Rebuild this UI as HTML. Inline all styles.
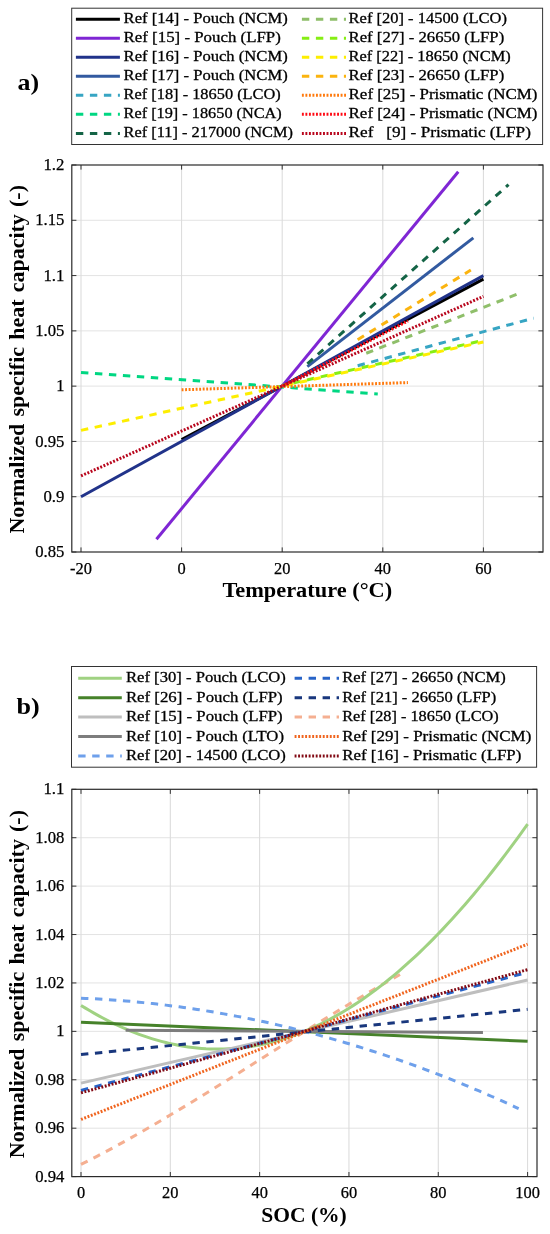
<!DOCTYPE html>
<html lang="en"><head><meta charset="utf-8"><title>Normalized specific heat capacity</title>
<style>html,body{margin:0;padding:0;background:#fff}body{width:550px;height:1234px;overflow:hidden}svg{display:block}</style>
</head><body>
<svg width="550" height="1234" viewBox="0 0 550 1234" font-family='"Liberation Serif", serif' fill="#000">
<rect width="550" height="1234" fill="#fff"/>
<defs>
<clipPath id="ca"><rect x="71.8" y="165.0" width="471.2" height="387.0"/></clipPath>
<clipPath id="cb"><rect x="71.8" y="789.3" width="465.2" height="387.29999999999995"/></clipPath>
</defs>
<rect x="71.8" y="165.0" width="471.2" height="387.0" fill="#fff"/>
<line x1="81.00" y1="165.0" x2="81.00" y2="552.0" stroke="#cfcfcf" stroke-width="0.8"/>
<line x1="181.60" y1="165.0" x2="181.60" y2="552.0" stroke="#cfcfcf" stroke-width="0.8"/>
<line x1="282.20" y1="165.0" x2="282.20" y2="552.0" stroke="#cfcfcf" stroke-width="0.8"/>
<line x1="382.80" y1="165.0" x2="382.80" y2="552.0" stroke="#cfcfcf" stroke-width="0.8"/>
<line x1="483.40" y1="165.0" x2="483.40" y2="552.0" stroke="#cfcfcf" stroke-width="0.8"/>
<line x1="71.8" y1="496.71" x2="543.0" y2="496.71" stroke="#dcdcdc" stroke-width="0.8"/>
<line x1="71.8" y1="441.43" x2="543.0" y2="441.43" stroke="#dcdcdc" stroke-width="0.8"/>
<line x1="71.8" y1="386.14" x2="543.0" y2="386.14" stroke="#dcdcdc" stroke-width="0.8"/>
<line x1="71.8" y1="330.86" x2="543.0" y2="330.86" stroke="#dcdcdc" stroke-width="0.8"/>
<line x1="71.8" y1="275.57" x2="543.0" y2="275.57" stroke="#dcdcdc" stroke-width="0.8"/>
<line x1="71.8" y1="220.29" x2="543.0" y2="220.29" stroke="#dcdcdc" stroke-width="0.8"/>
<path d="M181.60 439.66 L483.40 279.11" fill="none" stroke="#000000" stroke-width="3.0" clip-path="url(#ca)"/>
<path d="M156.45 539.28 L458.25 171.74" fill="none" stroke="#7f26d4" stroke-width="3.0" clip-path="url(#ca)"/>
<path d="M81.00 496.71 L483.40 275.57" fill="none" stroke="#21338a" stroke-width="3.0" clip-path="url(#ca)"/>
<path d="M307.35 366.63 L473.34 237.82" fill="none" stroke="#325aa0" stroke-width="3.0" clip-path="url(#ca)"/>
<path d="M357.65 365.74 L533.70 318.14" fill="none" stroke="#37a5c3" stroke-width="3.0" stroke-dasharray="7.4 6.6" clip-path="url(#ca)"/>
<path d="M81.00 372.43 L377.77 393.96" fill="none" stroke="#00d782" stroke-width="3.0" stroke-dasharray="7.4 6.6" clip-path="url(#ca)"/>
<path d="M307.35 363.75 L508.55 184.63" fill="none" stroke="#146446" stroke-width="3.0" stroke-dasharray="7.4 6.6" clip-path="url(#ca)"/>
<path d="M366.20 353.27 L516.60 294.43" fill="none" stroke="#8fbf6a" stroke-width="3.0" stroke-dasharray="7.4 6.6" clip-path="url(#ca)"/>
<path d="M282.20 385.48 L483.40 340.37" fill="none" stroke="#86ee14" stroke-width="3.0" stroke-dasharray="7.4 6.6" stroke-dashoffset="2.6" clip-path="url(#ca)"/>
<path d="M81.00 430.37 L483.40 341.91" fill="none" stroke="#fdee00" stroke-width="3.0" stroke-dasharray="7.4 6.6" clip-path="url(#ca)"/>
<path d="M357.65 339.70 L470.83 270.04" fill="none" stroke="#fbb40f" stroke-width="3.0" stroke-dasharray="7.4 6.6" clip-path="url(#ca)"/>
<path d="M181.60 389.79 L407.95 382.60" fill="none" stroke="#ff7a0d" stroke-width="3.0" stroke-dasharray="1.9 1.62" clip-path="url(#ca)"/>
<path d="M282.20 386.14 L407.95 320.91" fill="none" stroke="#ff0a14" stroke-width="3.0" stroke-dasharray="1.9 1.62" clip-path="url(#ca)"/>
<path d="M81.00 475.93 L483.40 296.36" fill="none" stroke="#b8051c" stroke-width="3.0" stroke-dasharray="1.9 1.62" clip-path="url(#ca)"/>
<line x1="81.00" y1="552.0" x2="81.00" y2="547.4" stroke="#333333" stroke-width="1"/>
<line x1="81.00" y1="165.0" x2="81.00" y2="169.6" stroke="#333333" stroke-width="1"/>
<line x1="181.60" y1="552.0" x2="181.60" y2="547.4" stroke="#333333" stroke-width="1"/>
<line x1="181.60" y1="165.0" x2="181.60" y2="169.6" stroke="#333333" stroke-width="1"/>
<line x1="282.20" y1="552.0" x2="282.20" y2="547.4" stroke="#333333" stroke-width="1"/>
<line x1="282.20" y1="165.0" x2="282.20" y2="169.6" stroke="#333333" stroke-width="1"/>
<line x1="382.80" y1="552.0" x2="382.80" y2="547.4" stroke="#333333" stroke-width="1"/>
<line x1="382.80" y1="165.0" x2="382.80" y2="169.6" stroke="#333333" stroke-width="1"/>
<line x1="483.40" y1="552.0" x2="483.40" y2="547.4" stroke="#333333" stroke-width="1"/>
<line x1="483.40" y1="165.0" x2="483.40" y2="169.6" stroke="#333333" stroke-width="1"/>
<line x1="71.8" y1="552.00" x2="76.39999999999999" y2="552.00" stroke="#333333" stroke-width="1"/>
<line x1="543.0" y1="552.00" x2="538.4" y2="552.00" stroke="#333333" stroke-width="1"/>
<line x1="71.8" y1="496.71" x2="76.39999999999999" y2="496.71" stroke="#333333" stroke-width="1"/>
<line x1="543.0" y1="496.71" x2="538.4" y2="496.71" stroke="#333333" stroke-width="1"/>
<line x1="71.8" y1="441.43" x2="76.39999999999999" y2="441.43" stroke="#333333" stroke-width="1"/>
<line x1="543.0" y1="441.43" x2="538.4" y2="441.43" stroke="#333333" stroke-width="1"/>
<line x1="71.8" y1="386.14" x2="76.39999999999999" y2="386.14" stroke="#333333" stroke-width="1"/>
<line x1="543.0" y1="386.14" x2="538.4" y2="386.14" stroke="#333333" stroke-width="1"/>
<line x1="71.8" y1="330.86" x2="76.39999999999999" y2="330.86" stroke="#333333" stroke-width="1"/>
<line x1="543.0" y1="330.86" x2="538.4" y2="330.86" stroke="#333333" stroke-width="1"/>
<line x1="71.8" y1="275.57" x2="76.39999999999999" y2="275.57" stroke="#333333" stroke-width="1"/>
<line x1="543.0" y1="275.57" x2="538.4" y2="275.57" stroke="#333333" stroke-width="1"/>
<line x1="71.8" y1="220.29" x2="76.39999999999999" y2="220.29" stroke="#333333" stroke-width="1"/>
<line x1="543.0" y1="220.29" x2="538.4" y2="220.29" stroke="#333333" stroke-width="1"/>
<line x1="71.8" y1="165.00" x2="76.39999999999999" y2="165.00" stroke="#333333" stroke-width="1"/>
<line x1="543.0" y1="165.00" x2="538.4" y2="165.00" stroke="#333333" stroke-width="1"/>
<rect x="71.8" y="165.0" width="471.2" height="387.0" fill="none" stroke="#2a2a2a" stroke-width="1.2"/>
<text x="70.07" y="573.60" font-size="15.8" textLength="21.86" lengthAdjust="spacingAndGlyphs" stroke="#000" stroke-width="0.25">-20</text>
<text x="177.50" y="573.60" font-size="15.8" textLength="8.20" lengthAdjust="spacingAndGlyphs" stroke="#000" stroke-width="0.25">0</text>
<text x="274.00" y="573.60" font-size="15.8" textLength="16.40" lengthAdjust="spacingAndGlyphs" stroke="#000" stroke-width="0.25">20</text>
<text x="374.60" y="573.60" font-size="15.8" textLength="16.40" lengthAdjust="spacingAndGlyphs" stroke="#000" stroke-width="0.25">40</text>
<text x="475.20" y="573.60" font-size="15.8" textLength="16.40" lengthAdjust="spacingAndGlyphs" stroke="#000" stroke-width="0.25">60</text>
<text x="35.24" y="557.10" font-size="15.8" textLength="29.16" lengthAdjust="spacingAndGlyphs" stroke="#000" stroke-width="0.25">0.85</text>
<text x="43.44" y="501.81" font-size="15.8" textLength="20.96" lengthAdjust="spacingAndGlyphs" stroke="#000" stroke-width="0.25">0.9</text>
<text x="35.24" y="446.53" font-size="15.8" textLength="29.16" lengthAdjust="spacingAndGlyphs" stroke="#000" stroke-width="0.25">0.95</text>
<text x="56.20" y="391.24" font-size="15.8" textLength="8.20" lengthAdjust="spacingAndGlyphs" stroke="#000" stroke-width="0.25">1</text>
<text x="35.24" y="335.96" font-size="15.8" textLength="29.16" lengthAdjust="spacingAndGlyphs" stroke="#000" stroke-width="0.25">1.05</text>
<text x="43.44" y="280.67" font-size="15.8" textLength="20.96" lengthAdjust="spacingAndGlyphs" stroke="#000" stroke-width="0.25">1.1</text>
<text x="35.24" y="225.39" font-size="15.8" textLength="29.16" lengthAdjust="spacingAndGlyphs" stroke="#000" stroke-width="0.25">1.15</text>
<text x="43.44" y="170.10" font-size="15.8" textLength="20.96" lengthAdjust="spacingAndGlyphs" stroke="#000" stroke-width="0.25">1.2</text>
<rect x="71.7" y="8.2" width="470.90000000000003" height="136.3" fill="#fff" stroke="#333333" stroke-width="1"/>
<line x1="75.9" y1="19.20" x2="119.9" y2="19.20" stroke="#000000" stroke-width="3.0"/>
<text x="123.6" y="23.30" font-size="15.6" textLength="164.1" lengthAdjust="spacingAndGlyphs" stroke="#000" stroke-width="0.3">Ref [14] - Pouch (NCM)</text>
<line x1="75.9" y1="38.23" x2="119.9" y2="38.23" stroke="#7f26d4" stroke-width="3.0"/>
<text x="123.6" y="42.33" font-size="15.6" textLength="157.2" lengthAdjust="spacingAndGlyphs" stroke="#000" stroke-width="0.3">Ref [15] - Pouch (LFP)</text>
<line x1="75.9" y1="57.26" x2="119.9" y2="57.26" stroke="#21338a" stroke-width="3.0"/>
<text x="123.6" y="61.36" font-size="15.6" textLength="164.1" lengthAdjust="spacingAndGlyphs" stroke="#000" stroke-width="0.3">Ref [16] - Pouch (NCM)</text>
<line x1="75.9" y1="76.29" x2="119.9" y2="76.29" stroke="#325aa0" stroke-width="3.0"/>
<text x="123.6" y="80.39" font-size="15.6" textLength="164.1" lengthAdjust="spacingAndGlyphs" stroke="#000" stroke-width="0.3">Ref [17] - Pouch (NCM)</text>
<line x1="75.9" y1="95.32" x2="119.9" y2="95.32" stroke="#37a5c3" stroke-width="3.0" stroke-dasharray="7.4 6.6"/>
<text x="123.6" y="99.42" font-size="15.6" textLength="157.2" lengthAdjust="spacingAndGlyphs" stroke="#000" stroke-width="0.3">Ref [18] - 18650 (LCO)</text>
<line x1="75.9" y1="114.35" x2="119.9" y2="114.35" stroke="#00d782" stroke-width="3.0" stroke-dasharray="7.4 6.6"/>
<text x="123.6" y="118.45" font-size="15.6" textLength="158.2" lengthAdjust="spacingAndGlyphs" stroke="#000" stroke-width="0.3">Ref [19] - 18650 (NCA)</text>
<line x1="75.9" y1="133.38" x2="119.9" y2="133.38" stroke="#146446" stroke-width="3.0" stroke-dasharray="7.4 6.6"/>
<text x="123.6" y="137.48" font-size="15.6" textLength="169.3" lengthAdjust="spacingAndGlyphs" stroke="#000" stroke-width="0.3">Ref [11] - 217000 (NCM)</text>
<line x1="301.9" y1="19.20" x2="346.0" y2="19.20" stroke="#8fbf6a" stroke-width="3.0" stroke-dasharray="7.4 6.6"/>
<text x="348.6" y="23.30" font-size="15.6" textLength="158.3" lengthAdjust="spacingAndGlyphs" stroke="#000" stroke-width="0.3">Ref [20] - 14500 (LCO)</text>
<line x1="301.9" y1="38.23" x2="346.0" y2="38.23" stroke="#86ee14" stroke-width="3.0" stroke-dasharray="7.4 6.6"/>
<text x="348.6" y="42.33" font-size="15.6" textLength="155.6" lengthAdjust="spacingAndGlyphs" stroke="#000" stroke-width="0.3">Ref [27] - 26650 (LFP)</text>
<line x1="301.9" y1="57.26" x2="346.0" y2="57.26" stroke="#fdee00" stroke-width="3.0" stroke-dasharray="7.4 6.6"/>
<text x="348.6" y="61.36" font-size="15.6" textLength="162.1" lengthAdjust="spacingAndGlyphs" stroke="#000" stroke-width="0.3">Ref [22] - 18650 (NCM)</text>
<line x1="301.9" y1="76.29" x2="346.0" y2="76.29" stroke="#fbb40f" stroke-width="3.0" stroke-dasharray="7.4 6.6"/>
<text x="348.6" y="80.39" font-size="15.6" textLength="155.6" lengthAdjust="spacingAndGlyphs" stroke="#000" stroke-width="0.3">Ref [23] - 26650 (LFP)</text>
<line x1="301.9" y1="95.32" x2="346.0" y2="95.32" stroke="#ff7a0d" stroke-width="3.0" stroke-dasharray="1.9 1.62"/>
<text x="348.6" y="99.42" font-size="15.6" textLength="188.8" lengthAdjust="spacingAndGlyphs" stroke="#000" stroke-width="0.3">Ref [25] - Prismatic (NCM)</text>
<line x1="301.9" y1="114.35" x2="346.0" y2="114.35" stroke="#ff0a14" stroke-width="3.0" stroke-dasharray="1.9 1.62"/>
<text x="348.6" y="118.45" font-size="15.6" textLength="188.8" lengthAdjust="spacingAndGlyphs" stroke="#000" stroke-width="0.3">Ref [24] - Prismatic (NCM)</text>
<line x1="301.9" y1="133.38" x2="346.0" y2="133.38" stroke="#b8051c" stroke-width="3.0" stroke-dasharray="1.9 1.62"/>
<text x="348.6" y="137.48" font-size="15.6" textLength="182.3" lengthAdjust="spacingAndGlyphs" stroke="#000" stroke-width="0.3">Ref  [9] - Prismatic (LFP)</text>
<text x="17.6" y="89.7" font-size="24" font-weight="bold" textLength="21.6" lengthAdjust="spacingAndGlyphs">a)</text>
<text transform="translate(23.6 533.6) rotate(-90)" font-size="20.4" font-weight="bold" textLength="348.6" word-spacing="1.6" lengthAdjust="spacingAndGlyphs">Normalized specific heat capacity (-)</text>
<text x="222.4" y="596.8" font-size="20.4" font-weight="bold" textLength="169.8" lengthAdjust="spacingAndGlyphs">Temperature (°C)</text>
<rect x="71.8" y="789.3" width="465.2" height="387.29999999999995" fill="#fff"/>
<line x1="81.00" y1="789.3" x2="81.00" y2="1176.6" stroke="#cfcfcf" stroke-width="0.8"/>
<line x1="170.32" y1="789.3" x2="170.32" y2="1176.6" stroke="#cfcfcf" stroke-width="0.8"/>
<line x1="259.64" y1="789.3" x2="259.64" y2="1176.6" stroke="#cfcfcf" stroke-width="0.8"/>
<line x1="348.96" y1="789.3" x2="348.96" y2="1176.6" stroke="#cfcfcf" stroke-width="0.8"/>
<line x1="438.28" y1="789.3" x2="438.28" y2="1176.6" stroke="#cfcfcf" stroke-width="0.8"/>
<line x1="527.60" y1="789.3" x2="527.60" y2="1176.6" stroke="#cfcfcf" stroke-width="0.8"/>
<line x1="71.8" y1="1128.19" x2="537.0" y2="1128.19" stroke="#dcdcdc" stroke-width="0.8"/>
<line x1="71.8" y1="1079.78" x2="537.0" y2="1079.78" stroke="#dcdcdc" stroke-width="0.8"/>
<line x1="71.8" y1="1031.36" x2="537.0" y2="1031.36" stroke="#dcdcdc" stroke-width="0.8"/>
<line x1="71.8" y1="982.95" x2="537.0" y2="982.95" stroke="#dcdcdc" stroke-width="0.8"/>
<line x1="71.8" y1="934.54" x2="537.0" y2="934.54" stroke="#dcdcdc" stroke-width="0.8"/>
<line x1="71.8" y1="886.12" x2="537.0" y2="886.12" stroke="#dcdcdc" stroke-width="0.8"/>
<line x1="71.8" y1="837.71" x2="537.0" y2="837.71" stroke="#dcdcdc" stroke-width="0.8"/>
<path d="M81.00 1164.46 L89.19 1160.31 L97.38 1156.07 L105.56 1151.75 L113.75 1147.34 L121.94 1142.86 L130.13 1138.30 L138.31 1133.68 L146.50 1128.99 L154.69 1124.23 L162.88 1119.42 L171.06 1114.56 L179.25 1109.65 L187.44 1104.70 L195.63 1099.71 L203.81 1094.68 L212.00 1089.62 L220.19 1084.53 L228.38 1079.42 L236.57 1074.30 L244.75 1069.15 L252.94 1064.00 L261.13 1058.84 L269.32 1053.68 L277.50 1048.52 L285.69 1043.37 L293.88 1038.23 L302.07 1033.10 L310.25 1028.00 L318.44 1022.91 L326.63 1017.86 L334.82 1012.83 L343.01 1007.85 L351.19 1002.90 L359.38 998.00 L367.57 993.15 L375.76 988.35 L383.94 983.60 L392.13 978.92 L400.32 974.31" fill="none" stroke="#f5af91" stroke-width="3.0" stroke-dasharray="7.4 6.6" clip-path="url(#cb)"/>
<path d="M81.00 1005.41 L85.47 1008.15 L89.93 1010.81 L94.40 1013.38 L98.86 1015.87 L103.33 1018.27 L107.80 1020.58 L112.26 1022.80 L116.73 1024.94 L121.19 1026.99 L125.66 1028.95 L130.13 1030.83 L134.59 1032.61 L139.06 1034.30 L143.52 1035.90 L147.99 1037.42 L152.46 1038.84 L156.92 1040.17 L161.39 1041.41 L165.85 1042.56 L170.32 1043.61 L174.79 1044.57 L179.25 1045.44 L183.72 1046.22 L188.18 1046.90 L192.65 1047.49 L197.12 1047.99 L201.58 1048.39 L206.05 1048.70 L210.51 1048.91 L214.98 1049.03 L219.45 1049.06 L223.91 1048.99 L228.38 1048.82 L232.84 1048.56 L237.31 1048.21 L241.78 1047.75 L246.24 1047.21 L250.71 1046.56 L255.17 1045.83 L259.64 1044.99 L264.11 1044.06 L268.57 1043.04 L273.04 1041.91 L277.50 1040.70 L281.97 1039.38 L286.44 1037.97 L290.90 1036.47 L295.37 1034.87 L299.83 1033.17 L304.30 1031.38 L308.77 1029.49 L313.23 1027.50 L317.70 1025.42 L322.16 1023.25 L326.63 1020.98 L331.10 1018.61 L335.56 1016.15 L340.03 1013.59 L344.49 1010.94 L348.96 1008.20 L353.43 1005.36 L357.89 1002.42 L362.36 999.39 L366.82 996.27 L371.29 993.05 L375.76 989.74 L380.22 986.34 L384.69 982.85 L389.15 979.26 L393.62 975.58 L398.09 971.81 L402.55 967.94 L407.02 963.99 L411.48 959.94 L415.95 955.80 L420.42 951.58 L424.88 947.26 L429.35 942.85 L433.81 938.36 L438.28 933.77 L442.75 929.10 L447.21 924.34 L451.68 919.49 L456.14 914.55 L460.61 909.53 L465.08 904.42 L469.54 899.23 L474.01 893.95 L478.47 888.59 L482.94 883.14 L487.41 877.61 L491.87 872.00 L496.34 866.30 L500.80 860.52 L505.27 854.66 L509.74 848.72 L514.20 842.70 L518.67 836.60 L523.13 830.43 L527.60 824.17" fill="none" stroke="#a0d282" stroke-width="3.0" clip-path="url(#cb)"/>
<path d="M81.00 1022.16 L527.60 1041.29" fill="none" stroke="#46822a" stroke-width="3.0" clip-path="url(#cb)"/>
<path d="M81.00 1083.16 L527.60 980.05" fill="none" stroke="#bebebe" stroke-width="3.0" clip-path="url(#cb)"/>
<path d="M125.66 1030.15 L482.94 1032.57" fill="none" stroke="#7d7d7d" stroke-width="3.0" clip-path="url(#cb)"/>
<path d="M81.00 998.20 L85.47 998.39 L89.93 998.60 L94.40 998.83 L98.86 999.08 L103.33 999.35 L107.80 999.63 L112.26 999.94 L116.73 1000.26 L121.19 1000.61 L125.66 1000.97 L130.13 1001.36 L134.59 1001.76 L139.06 1002.18 L143.52 1002.62 L147.99 1003.08 L152.46 1003.56 L156.92 1004.06 L161.39 1004.58 L165.85 1005.12 L170.32 1005.68 L174.79 1006.25 L179.25 1006.85 L183.72 1007.46 L188.18 1008.10 L192.65 1008.75 L197.12 1009.42 L201.58 1010.12 L206.05 1010.83 L210.51 1011.56 L214.98 1012.31 L219.45 1013.08 L223.91 1013.87 L228.38 1014.67 L232.84 1015.50 L237.31 1016.35 L241.78 1017.21 L246.24 1018.10 L250.71 1019.00 L255.17 1019.93 L259.64 1020.87 L264.11 1021.83 L268.57 1022.81 L273.04 1023.82 L277.50 1024.84 L281.97 1025.88 L286.44 1026.93 L290.90 1028.01 L295.37 1029.11 L299.83 1030.23 L304.30 1031.36 L308.77 1032.52 L313.23 1033.69 L317.70 1034.89 L322.16 1036.10 L326.63 1037.33 L331.10 1038.58 L335.56 1039.86 L340.03 1041.15 L344.49 1042.46 L348.96 1043.78 L353.43 1045.13 L357.89 1046.50 L362.36 1047.89 L366.82 1049.29 L371.29 1050.72 L375.76 1052.16 L380.22 1053.63 L384.69 1055.11 L389.15 1056.61 L393.62 1058.14 L398.09 1059.68 L402.55 1061.24 L407.02 1062.82 L411.48 1064.42 L415.95 1066.03 L420.42 1067.67 L424.88 1069.33 L429.35 1071.01 L433.81 1072.70 L438.28 1074.42 L442.75 1076.15 L447.21 1077.90 L451.68 1079.68 L456.14 1081.47 L460.61 1083.28 L465.08 1085.11 L469.54 1086.96 L474.01 1088.83 L478.47 1090.72 L482.94 1092.63 L487.41 1094.55 L491.87 1096.50 L496.34 1098.47 L500.80 1100.45 L505.27 1102.46 L509.74 1104.48 L514.20 1106.52 L518.67 1108.59" fill="none" stroke="#6ea0eb" stroke-width="3.0" stroke-dasharray="7.4 6.6" clip-path="url(#cb)"/>
<path d="M81.00 1090.43 L527.60 972.30" fill="none" stroke="#2864c8" stroke-width="3.0" stroke-dasharray="7.4 6.6" clip-path="url(#cb)"/>
<path d="M81.00 1054.60 L527.60 1009.33" fill="none" stroke="#19377d" stroke-width="3.0" stroke-dasharray="7.4 6.6" clip-path="url(#cb)"/>
<path d="M81.00 1119.47 L527.60 944.22" fill="none" stroke="#f0641e" stroke-width="3.0" stroke-dasharray="1.9 1.62" clip-path="url(#cb)"/>
<path d="M81.00 1092.85 L527.60 969.64" fill="none" stroke="#820a14" stroke-width="3.0" stroke-dasharray="1.9 1.62" clip-path="url(#cb)"/>
<line x1="81.00" y1="1176.6" x2="81.00" y2="1172.0" stroke="#333333" stroke-width="1"/>
<line x1="81.00" y1="789.3" x2="81.00" y2="793.9" stroke="#333333" stroke-width="1"/>
<line x1="170.32" y1="1176.6" x2="170.32" y2="1172.0" stroke="#333333" stroke-width="1"/>
<line x1="170.32" y1="789.3" x2="170.32" y2="793.9" stroke="#333333" stroke-width="1"/>
<line x1="259.64" y1="1176.6" x2="259.64" y2="1172.0" stroke="#333333" stroke-width="1"/>
<line x1="259.64" y1="789.3" x2="259.64" y2="793.9" stroke="#333333" stroke-width="1"/>
<line x1="348.96" y1="1176.6" x2="348.96" y2="1172.0" stroke="#333333" stroke-width="1"/>
<line x1="348.96" y1="789.3" x2="348.96" y2="793.9" stroke="#333333" stroke-width="1"/>
<line x1="438.28" y1="1176.6" x2="438.28" y2="1172.0" stroke="#333333" stroke-width="1"/>
<line x1="438.28" y1="789.3" x2="438.28" y2="793.9" stroke="#333333" stroke-width="1"/>
<line x1="527.60" y1="1176.6" x2="527.60" y2="1172.0" stroke="#333333" stroke-width="1"/>
<line x1="527.60" y1="789.3" x2="527.60" y2="793.9" stroke="#333333" stroke-width="1"/>
<line x1="71.8" y1="1176.60" x2="76.39999999999999" y2="1176.60" stroke="#333333" stroke-width="1"/>
<line x1="537.0" y1="1176.60" x2="532.4" y2="1176.60" stroke="#333333" stroke-width="1"/>
<line x1="71.8" y1="1128.19" x2="76.39999999999999" y2="1128.19" stroke="#333333" stroke-width="1"/>
<line x1="537.0" y1="1128.19" x2="532.4" y2="1128.19" stroke="#333333" stroke-width="1"/>
<line x1="71.8" y1="1079.78" x2="76.39999999999999" y2="1079.78" stroke="#333333" stroke-width="1"/>
<line x1="537.0" y1="1079.78" x2="532.4" y2="1079.78" stroke="#333333" stroke-width="1"/>
<line x1="71.8" y1="1031.36" x2="76.39999999999999" y2="1031.36" stroke="#333333" stroke-width="1"/>
<line x1="537.0" y1="1031.36" x2="532.4" y2="1031.36" stroke="#333333" stroke-width="1"/>
<line x1="71.8" y1="982.95" x2="76.39999999999999" y2="982.95" stroke="#333333" stroke-width="1"/>
<line x1="537.0" y1="982.95" x2="532.4" y2="982.95" stroke="#333333" stroke-width="1"/>
<line x1="71.8" y1="934.54" x2="76.39999999999999" y2="934.54" stroke="#333333" stroke-width="1"/>
<line x1="537.0" y1="934.54" x2="532.4" y2="934.54" stroke="#333333" stroke-width="1"/>
<line x1="71.8" y1="886.12" x2="76.39999999999999" y2="886.12" stroke="#333333" stroke-width="1"/>
<line x1="537.0" y1="886.12" x2="532.4" y2="886.12" stroke="#333333" stroke-width="1"/>
<line x1="71.8" y1="837.71" x2="76.39999999999999" y2="837.71" stroke="#333333" stroke-width="1"/>
<line x1="537.0" y1="837.71" x2="532.4" y2="837.71" stroke="#333333" stroke-width="1"/>
<line x1="71.8" y1="789.30" x2="76.39999999999999" y2="789.30" stroke="#333333" stroke-width="1"/>
<line x1="537.0" y1="789.30" x2="532.4" y2="789.30" stroke="#333333" stroke-width="1"/>
<rect x="71.8" y="789.3" width="465.2" height="387.29999999999995" fill="none" stroke="#2a2a2a" stroke-width="1.2"/>
<text x="76.90" y="1198.20" font-size="15.8" textLength="8.20" lengthAdjust="spacingAndGlyphs" stroke="#000" stroke-width="0.25">0</text>
<text x="162.12" y="1198.20" font-size="15.8" textLength="16.40" lengthAdjust="spacingAndGlyphs" stroke="#000" stroke-width="0.25">20</text>
<text x="251.44" y="1198.20" font-size="15.8" textLength="16.40" lengthAdjust="spacingAndGlyphs" stroke="#000" stroke-width="0.25">40</text>
<text x="340.76" y="1198.20" font-size="15.8" textLength="16.40" lengthAdjust="spacingAndGlyphs" stroke="#000" stroke-width="0.25">60</text>
<text x="430.08" y="1198.20" font-size="15.8" textLength="16.40" lengthAdjust="spacingAndGlyphs" stroke="#000" stroke-width="0.25">80</text>
<text x="515.30" y="1198.20" font-size="15.8" textLength="24.60" lengthAdjust="spacingAndGlyphs" stroke="#000" stroke-width="0.25">100</text>
<text x="35.24" y="1181.70" font-size="15.8" textLength="29.16" lengthAdjust="spacingAndGlyphs" stroke="#000" stroke-width="0.25">0.94</text>
<text x="35.24" y="1133.29" font-size="15.8" textLength="29.16" lengthAdjust="spacingAndGlyphs" stroke="#000" stroke-width="0.25">0.96</text>
<text x="35.24" y="1084.88" font-size="15.8" textLength="29.16" lengthAdjust="spacingAndGlyphs" stroke="#000" stroke-width="0.25">0.98</text>
<text x="56.20" y="1036.46" font-size="15.8" textLength="8.20" lengthAdjust="spacingAndGlyphs" stroke="#000" stroke-width="0.25">1</text>
<text x="35.24" y="988.05" font-size="15.8" textLength="29.16" lengthAdjust="spacingAndGlyphs" stroke="#000" stroke-width="0.25">1.02</text>
<text x="35.24" y="939.64" font-size="15.8" textLength="29.16" lengthAdjust="spacingAndGlyphs" stroke="#000" stroke-width="0.25">1.04</text>
<text x="35.24" y="891.23" font-size="15.8" textLength="29.16" lengthAdjust="spacingAndGlyphs" stroke="#000" stroke-width="0.25">1.06</text>
<text x="35.24" y="842.81" font-size="15.8" textLength="29.16" lengthAdjust="spacingAndGlyphs" stroke="#000" stroke-width="0.25">1.08</text>
<text x="43.44" y="794.40" font-size="15.8" textLength="20.96" lengthAdjust="spacingAndGlyphs" stroke="#000" stroke-width="0.25">1.1</text>
<rect x="71.5" y="666.5" width="465.1" height="100.70000000000005" fill="#fff" stroke="#333333" stroke-width="1"/>
<line x1="78.2" y1="678.20" x2="121.8" y2="678.20" stroke="#a0d282" stroke-width="3.0"/>
<text x="125.9" y="682.30" font-size="15.6" textLength="160.0" lengthAdjust="spacingAndGlyphs" stroke="#000" stroke-width="0.3">Ref [30] - Pouch (LCO)</text>
<line x1="78.2" y1="697.65" x2="121.8" y2="697.65" stroke="#46822a" stroke-width="3.0"/>
<text x="125.9" y="701.75" font-size="15.6" textLength="156.8" lengthAdjust="spacingAndGlyphs" stroke="#000" stroke-width="0.3">Ref [26] - Pouch (LFP)</text>
<line x1="78.2" y1="717.10" x2="121.8" y2="717.10" stroke="#bebebe" stroke-width="3.0"/>
<text x="125.9" y="721.20" font-size="15.6" textLength="156.8" lengthAdjust="spacingAndGlyphs" stroke="#000" stroke-width="0.3">Ref [15] - Pouch (LFP)</text>
<line x1="78.2" y1="736.55" x2="121.8" y2="736.55" stroke="#7d7d7d" stroke-width="3.0"/>
<text x="125.9" y="740.65" font-size="15.6" textLength="158.1" lengthAdjust="spacingAndGlyphs" stroke="#000" stroke-width="0.3">Ref [10] - Pouch (LTO)</text>
<line x1="78.2" y1="756.00" x2="121.8" y2="756.00" stroke="#6ea0eb" stroke-width="3.0" stroke-dasharray="7.4 6.6"/>
<text x="125.9" y="760.10" font-size="15.6" textLength="160.0" lengthAdjust="spacingAndGlyphs" stroke="#000" stroke-width="0.3">Ref [20] - 14500 (LCO)</text>
<line x1="294.6" y1="678.20" x2="339.0" y2="678.20" stroke="#2864c8" stroke-width="3.0" stroke-dasharray="7.4 6.6"/>
<text x="342.2" y="682.30" font-size="15.6" textLength="163.6" lengthAdjust="spacingAndGlyphs" stroke="#000" stroke-width="0.3">Ref [27] - 26650 (NCM)</text>
<line x1="294.6" y1="697.65" x2="339.0" y2="697.65" stroke="#19377d" stroke-width="3.0" stroke-dasharray="7.4 6.6"/>
<text x="342.2" y="701.75" font-size="15.6" textLength="154.1" lengthAdjust="spacingAndGlyphs" stroke="#000" stroke-width="0.3">Ref [21] - 26650 (LFP)</text>
<line x1="294.6" y1="717.10" x2="339.0" y2="717.10" stroke="#f5af91" stroke-width="3.0" stroke-dasharray="7.4 6.6"/>
<text x="342.2" y="721.20" font-size="15.6" textLength="156.5" lengthAdjust="spacingAndGlyphs" stroke="#000" stroke-width="0.3">Ref [28] - 18650 (LCO)</text>
<line x1="294.6" y1="736.55" x2="339.0" y2="736.55" stroke="#f0641e" stroke-width="3.0" stroke-dasharray="1.9 1.62"/>
<text x="342.2" y="740.65" font-size="15.6" textLength="189.1" lengthAdjust="spacingAndGlyphs" stroke="#000" stroke-width="0.3">Ref [29] - Prismatic (NCM)</text>
<line x1="294.6" y1="756.00" x2="339.0" y2="756.00" stroke="#820a14" stroke-width="3.0" stroke-dasharray="1.9 1.62"/>
<text x="342.2" y="760.10" font-size="15.6" textLength="179.2" lengthAdjust="spacingAndGlyphs" stroke="#000" stroke-width="0.3">Ref [16] - Prismatic (LFP)</text>
<text x="16.4" y="713.5" font-size="24" font-weight="bold" textLength="23.2" lengthAdjust="spacingAndGlyphs">b)</text>
<text transform="translate(23.6 1158.2) rotate(-90)" font-size="20.4" font-weight="bold" textLength="348.2" word-spacing="1.6" lengthAdjust="spacingAndGlyphs">Normalized specific heat capacity (-)</text>
<text x="261.2" y="1221.8" font-size="20.4" font-weight="bold" textLength="85.6" lengthAdjust="spacingAndGlyphs">SOC (%)</text>
</svg>
</body></html>
